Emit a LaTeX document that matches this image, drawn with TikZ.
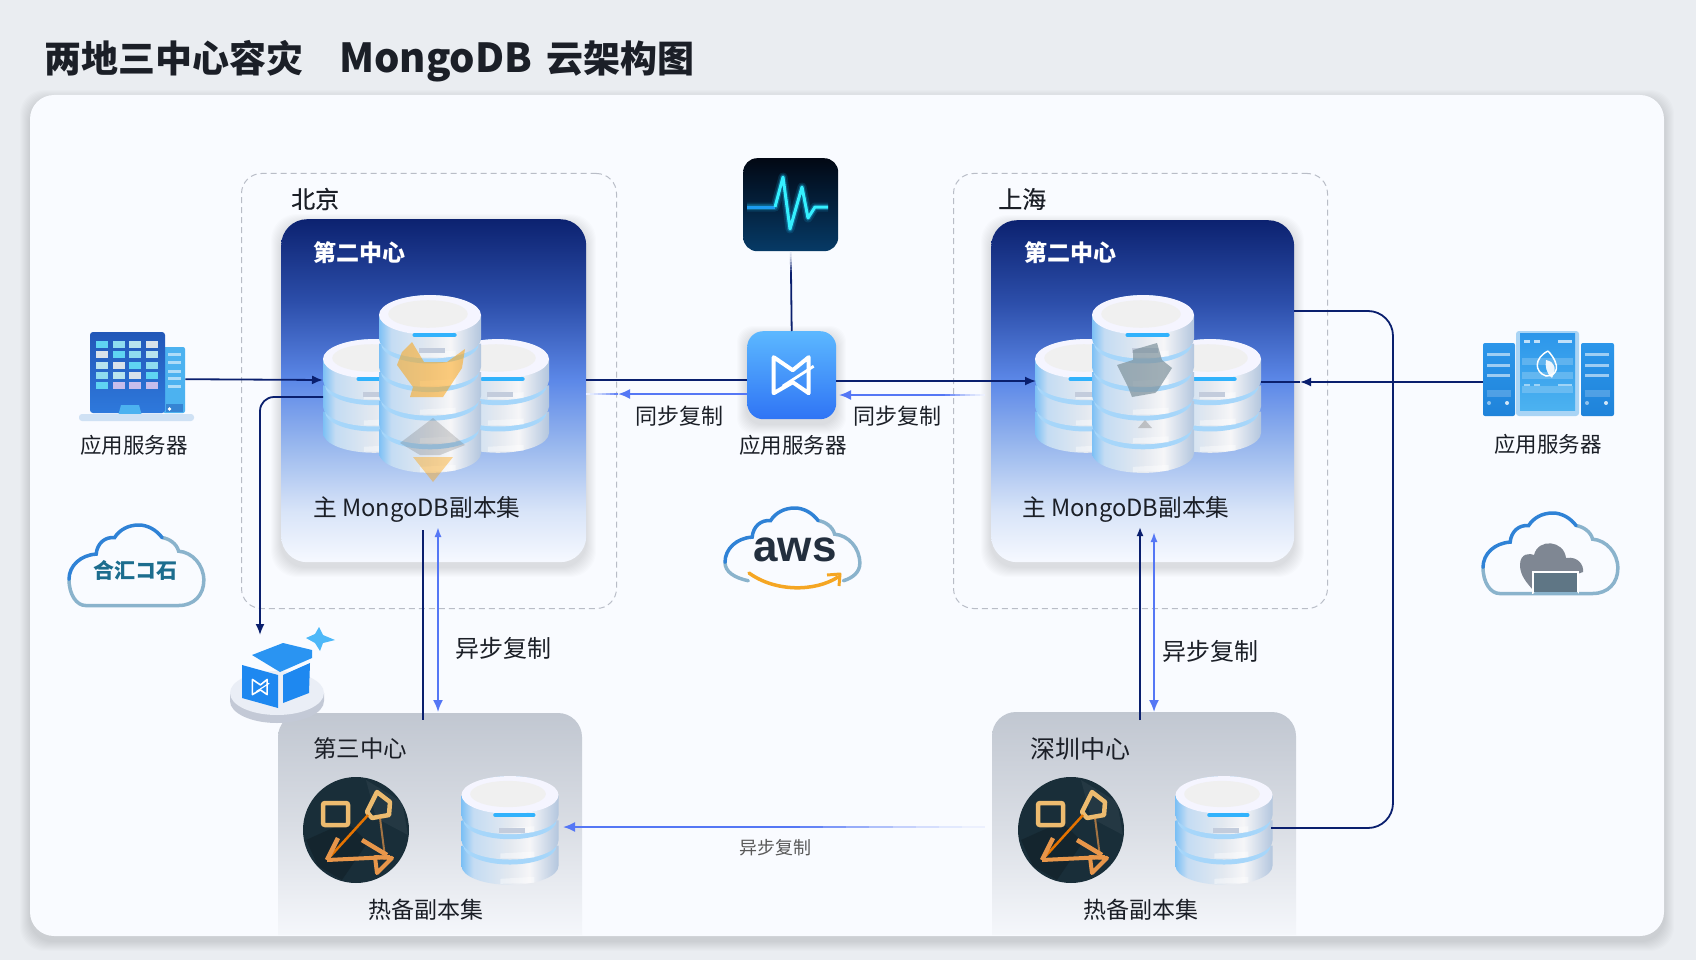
\documentclass[tikz,border=0pt]{standalone}
\usepackage{fontspec}
\setmainfont{Noto Sans CJK SC}
\newfontfamily\awsfont{Liberation Sans}
\newfontfamily\namefont[FakeBold=.35]{Noto Sans CJK SC}
\usetikzlibrary{arrows.meta,calc}

\definecolor{pagebg}{HTML}{EAEDF1}
\definecolor{panelbg}{HTML}{F9FBFF}
\definecolor{inkdark}{HTML}{1B1F27}
\definecolor{navyline}{HTML}{0A1F6E}
\definecolor{syncblue}{HTML}{5577F5}
\definecolor{zoneline}{HTML}{B9BDC7}
\definecolor{cloudhi}{HTML}{2F82D6}
\definecolor{cloudlo}{HTML}{8AB3CC}
\definecolor{glowblue}{HTML}{3AA4FB}
\definecolor{glowside}{HTML}{A6D6FA}
\definecolor{orangeline}{HTML}{E8964A}
\definecolor{orangepale}{HTML}{EDBB6F}
\definecolor{hotbg}{HTML}{192E39}
\definecolor{awsink}{HTML}{232F3E}
\definecolor{towerlight}{HTML}{4CB2F0}
\definecolor{hubtop}{HTML}{5CB8FF}
\definecolor{hubbot}{HTML}{2F74F5}
\definecolor{monitortop}{HTML}{020814}
\definecolor{monitorbot}{HTML}{063A66}
\definecolor{pulseglow}{HTML}{1FC8FF}
\definecolor{pulsecore}{HTML}{35F0FF}
\definecolor{pulseside}{HTML}{1C9CF0}
\definecolor{officetop}{HTML}{2257B8}
\definecolor{officebot}{HTML}{2E79DC}
\definecolor{winA}{HTML}{5FD4F2}
\definecolor{winB}{HTML}{8FDCEF}
\definecolor{winC}{HTML}{B9E4EE}
\definecolor{winD}{HTML}{D9E2EA}
\definecolor{winE}{HTML}{C8BDEB}
\definecolor{basepale}{HTML}{CFE1F4}
\definecolor{rackedge}{HTML}{1F83DA}
\definecolor{racktop}{HTML}{2C96EA}
\definecolor{rackframe}{HTML}{A9D4F5}
\definecolor{cubeblue}{HTML}{1E88F0}
\definecolor{cubetop}{HTML}{2A94F2}
\definecolor{sparkle}{HTML}{4DB8F8}
\definecolor{stoneside}{HTML}{C3C9D6}
\definecolor{stonetop}{HTML}{EAEEF6}
\definecolor{puffgrey}{HTML}{7F8793}
\definecolor{slatebox}{HTML}{5F7685}
\definecolor{logoteal}{HTML}{1C6D8E}
\definecolor{smile}{HTML}{F5A623}
\definecolor{slotgrey}{HTML}{C3CCDC}
\definecolor{cardA}{HTML}{F6F9FF}
\definecolor{cardB}{HTML}{D8E4F8}
\definecolor{cardC}{HTML}{9CBAEE}
\definecolor{cardD}{HTML}{5C88E8}
\definecolor{cardE}{HTML}{2C4EAA}
\definecolor{cardF}{HTML}{0C2270}
\definecolor{greyA}{HTML}{F5F7FB}
\definecolor{greyB}{HTML}{D9DDE4}
\definecolor{greyC}{HTML}{C1C7D1}
\definecolor{bodyA}{HTML}{7CC0F5}
\definecolor{bodyB}{HTML}{C4DCF3}
\definecolor{bodyC}{HTML}{E4E9F0}
\definecolor{bodyD}{HTML}{F6F6F8}
\definecolor{bodyE}{HTML}{B3C6DE}

\pgfdeclareverticalshading{cardblue}{100bp}{
	color(0bp)=(cardA);
	color(25bp)=(cardA);
	color(32.5bp)=(cardB);
	color(41.5bp)=(cardC);
	color(51.5bp)=(cardD);
	color(63bp)=(cardE);
	color(75bp)=(cardF);
	color(100bp)=(cardF)}
\pgfdeclareverticalshading{cardgrey}{100bp}{
	color(0bp)=(greyA);
	color(25bp)=(greyA);
	color(50bp)=(greyB);
	color(75bp)=(greyC);
	color(100bp)=(greyC)}
\pgfdeclarehorizontalshading{dbbody}{100bp}{
	color(0bp)=(bodyA);
	color(25bp)=(bodyA);
	color(31bp)=(bodyB);
	color(50bp)=(bodyC);
	color(60bp)=(bodyD);
	color(75bp)=(bodyE);
	color(100bp)=(bodyE)}

\tikzset{
	zone/.style={draw=zoneline, line width=1pt, dash pattern=on 6pt off 4pt, rounded corners=20pt, anchor=north west, inner sep=0pt},
	bluecard/.style={shade, shading=cardblue, rounded corners=26pt, anchor=north west, inner sep=0pt},
	txt/.style={font=\fontsize{#1}{#1}\selectfont, text=inkdark, inner sep=0pt},
	navy/.style={draw=navyline, line width=1.8pt},
	navyarrow/.style={navy, -{Latex[length=11pt,width=9pt]}},
	navytip/.style={navy, -{Latex[length=9pt,width=7pt]}},
	sync/.style={draw=syncblue, line width=1.8pt},
	syncarrow/.style={sync, -{Latex[length=12pt,width=10pt]}},
	syncboth/.style={sync, {Latex[length=10pt,width=7pt]}-{Latex[length=12pt,width=10pt]}},
	blank/.style={inner sep=0pt, anchor=north west},
	cloudup/.style={draw=cloudhi, line width=3.5pt, line cap=round},
	clouddown/.style={draw=cloudlo, line width=3.5pt, line cap=round},
	cloudcrest/.pic={
		\draw[cloudup] (0,56) .. controls (0,42) and (12,31) .. (28,30) .. controls (29,19) and (37,12) .. (47,13)
			.. controls (52,5) and (61,0) .. (72,0) .. controls (81,0) and (90,5) .. (96,13);
	},
	cloudrim/.pic={
		\draw[clouddown] (0,56) .. controls (0,72) and (8,83) .. (17,83) -- (113,83) .. controls (129,83) and (139,72) .. (139,57)
			.. controls (139,41) and (127,28) .. (113,27) .. controls (111,19) and (103,14) .. (96,13);
	},
	awsrim/.pic={
		\draw[clouddown] (24,75) .. controls (10,72) and (0,66) .. (0,56);
		\draw[clouddown] (122,75) .. controls (132,72) and (139,66) .. (139,57)
			.. controls (139,41) and (127,28) .. (113,27) .. controls (111,19) and (103,14) .. (96,13);
	},
	mlogo/.pic={
		\draw[white, line width=#1, line join=round] (-18,-18) -- (1,-5) -- (17,-18) -- (17,18) -- (1,7) -- (-18,18) -- cycle;
		\draw[white, line width=#1*.7] (-9,11) -- (22,-9);
	},
	hotgraph/.pic={
		\fill[hotbg] (0,0) circle (53pt);
		\fill[black, opacity=.18] (-50,10) -- (-10,-8) -- (12,12) -- (-14,50) -- (-38,36) -- cycle;
		\fill[white, opacity=.05] (10,-50) -- (46,-28) -- (52,5) -- (20,-12) -- cycle;
		\draw[orangepale, line width=4.5pt, rounded corners=2pt] (-33,-27) rectangle (-8,-5);
		\draw[orangepale, line width=4.5pt, line join=round] (11,-18) -- (21,-38) -- (34,-28) -- (33,-15) -- (16,-12) -- cycle;
		\draw[orangeline!80!brown, line width=2pt, opacity=.7] (24,-12) -- (29,27);
		\draw[orange!90!black, line width=2.5pt] (12,-15) -- (-29,30);
		\draw[orangeline, line width=4pt] (-29,30) -- (34,27);
		\draw[orangeline, line width=4.5pt] (6,10) -- (31,25);
		\draw[orangeline, line width=4.5pt] (-18,8) -- (-29,30);
		\draw[orangeline, line width=4pt, line join=round] (19,27) -- (36,28) -- (21,43) -- cycle;
	}
}

\newcommand{\softshadow}[6]{%
	\foreach \s in {1,...,10} {
		\fill[black, opacity=#6, rounded corners=#5pt] (#1-\s,#2-\s+5) rectangle (#3+\s,#4+\s+5);
	}
}
\newcommand{\fadeline}[4]{%
	\foreach \t/\p in {0/90,1/75,2/60,3/45,4/32,5/22,6/14,7/8} {
		\draw[draw=#1!\p!panelbg, line width=#4] ($(#2)!\t/8!(#3)$) -- ($(#2)!\t/8+.125!(#3)$);
	}
}
% one stack of discs: centre x, first top y, half width, discs, pitch
\newcommand{\dbstack}[5]{%
	\pgfmathtruncatemacro{\nlast}{#4-1}
	\foreach \i in {\nlast,...,0} {
		\pgfmathsetmacro{\yy}{#2+\i*#5}
		\pgfmathsetmacro{\yb}{\yy+#5-5}
		\shade[shading=dbbody] (#1-#3,\yy) -- (#1-#3,\yb) arc [start angle=180, end angle=360, x radius=#3pt, y radius=.39*#3pt] -- (#1+#3,\yy) -- cycle;
		\fill[white, opacity=.4] (#1-#3*.2,\yb+.39*#3-6) -- (#1+#3*.5,\yb+.39*#3-8) -- (#1+#3*.5,\yb+.39*#3-2) -- (#1-#3*.2,\yb+.39*#3-1) -- cycle;
		\shade[left color=glowside, middle color=glowblue, right color=glowside] (#1,\yy) ellipse [x radius=.96*#3pt, y radius=.39*#3pt];
	}
	\fill[white!96!blue] (#1,#2) ellipse [x radius=#3pt, y radius=.39*#3pt];
	\fill[black!6] (#1-2,#2-1) ellipse [x radius=.78*#3pt, y radius=.27*#3pt];
	\draw[glowblue!85!cyan, line width=4.5pt, line cap=round] (#1-.3*#3,#2+20) -- (#1+.48*#3,#2+20);
	\fill[slotgrey] (#1-.22*#3,#2+33) rectangle (#1+.3*#3,#2+38);
}

\begin{document}
\begin{tikzpicture}[x=1pt, y=-1pt]
	\useasboundingbox (0,0) rectangle (1696,960);
	\fill[pagebg] (0,0) rectangle (1696,960);
	\softshadow{30}{95}{1664}{936}{24}{.012}
	\fill[panelbg, rounded corners=24pt] (30,95) rectangle (1664,936);
	\node[txt=37, anchor=west, font=\fontsize{37}{37}\selectfont\bfseries] (title) at (44,61) {两地三中心容灾\hspace{36pt}{\fontsize{40}{40}\selectfont MongoDB}\hspace{14pt}云架构图};

	\node[zone, minimum width=375pt, minimum height=435pt] (bjzone) at (241,173) {};
	\node[zone, minimum width=374pt, minimum height=435pt] (shzone) at (953,173) {};
	\node[txt=24, anchor=west, font=\namefont\fontsize{24}{24}\selectfont] (bjname) at (291,199) {北京};
	\node[txt=24, anchor=west, font=\namefont\fontsize{24}{24}\selectfont] (shname) at (998,199) {上海};

	\softshadow{281}{219}{586}{562}{26}{.012}
	\softshadow{991}{220}{1294}{562}{26}{.012}
	\node[bluecard, minimum width=305pt, minimum height=343pt] (bjcard) at (281,219) {};
	\node[bluecard, minimum width=303pt, minimum height=342pt] (shcard) at (991,220) {};
	\node[txt=23, text=white, anchor=west, font=\fontsize{23}{23}\selectfont\bfseries] (bjtag) at (313,253) {第二中心};
	\node[txt=23, text=white, anchor=west, font=\fontsize{23}{23}\selectfont\bfseries] (shtag) at (1024,253) {第二中心};
	\node[txt=23.7, anchor=west] (bjset) at (313,509) {主 MongoDB副本集};
	\node[txt=23.7, anchor=west] (shset) at (1022,509) {主 MongoDB副本集};

	\dbstack{374}{359}{51}{3}{26.3}
	\dbstack{498}{359}{51}{3}{26.3}
	\dbstack{430}{315}{51}{5}{28.6}
	\dbstack{1086}{359}{51}{3}{26.3}
	\dbstack{1210}{359}{51}{3}{26.3}
	\dbstack{1143}{315}{51}{5}{28.6}
	\fill[orange!75!yellow, opacity=.5] (397,365) -- (402,352) -- (412,342) -- (424,362) -- (447,362) -- (465,349) -- (462,368) -- (443,397) -- (410,397) -- (413,387) -- cycle;
	\fill[black!60, opacity=.25] (400,443) -- (433,418) -- (465,445) -- (440,455) -- (420,455) -- cycle;
	\fill[orange!75!yellow, opacity=.4] (413,457) -- (453,457) -- (433,482) -- cycle;
	\fill[black!30!cyan!30!gray, opacity=.7] (1133,350) -- (1157,343) -- (1162,360) -- (1172,368) -- (1158,390) -- (1155,393) -- (1132,397) -- (1128,387) -- (1117,365) -- (1133,360) -- cycle;
	\fill[black!45, opacity=.45] (1138,428) -- (1145,420) -- (1152,428) -- cycle;

	% lower sites
	\shade[shading=cardgrey] (278,935) [rounded corners=24pt] -- (278,713) -- (582,713) [sharp corners] -- (582,935) -- cycle;
	\shade[shading=cardgrey] (992,935) [rounded corners=24pt] -- (992,712) -- (1296,712) [sharp corners] -- (1296,935) -- cycle;
	\node[txt=23.5, anchor=west] (thirdname) at (313,749) {第三中心};
	\node[txt=25, anchor=west] (szname) at (1030,749) {深圳中心};
	\pic at (356,830) {hotgraph};
	\pic at (1071,830) {hotgraph};
	\dbstack{510}{795}{48.5}{3}{25.3}
	\dbstack{1224}{795}{48.5}{3}{25.3}
	\node[txt=23] (thirdset) at (426,910) {热备副本集};
	\node[txt=23] (szset) at (1141,910) {热备副本集};

	% left server
	\fill[towerlight, rounded corners=2pt] (163,347) rectangle (185,413);
	\foreach \y in {353,361,370,377,385} {
		\fill[white, opacity=.55] (168,\y) rectangle (181,\y+3);
	}
	\fill[officetop, opacity=.5] (166,404) rectangle (183,412);
	\fill[white] (169.5,409) circle (1.8pt);
	\shade[top color=officetop, bottom color=officebot, rounded corners=3pt] (90,332) rectangle (165,413);
	\foreach \r in {0,...,4} {
		\foreach \c in {0,...,3} {
			\pgfmathtruncatemacro{\m}{mod(\r*3+\c*5,4)}
			\ifnum\m=0 \def\wincol{winA}\fi
			\ifnum\m=1 \def\wincol{winB}\fi
			\ifnum\m=2 \def\wincol{winC}\fi
			\ifnum\m=3 \def\wincol{winD}\fi
			\ifnum\r=4 \ifnum\c>0 \def\wincol{winE}\fi\fi
			\fill[\wincol] (96+\c*16.7,341+\r*10.3) rectangle (108+\c*16.7,348+\r*10.3);
		}
	}
	\fill[towerlight] (121,405) -- (139,405) -- (142,416) -- (118,416) -- cycle;
	\fill[basepale, rounded corners=3pt] (79,414) rectangle (194,421);
	\node[blank, minimum width=95pt, minimum height=94pt] (appleft) at (90,332) {};
	\node[txt=21.5] (appleftname) at (134,445) {应用服务器};

	% right server
	\foreach \xa/\xb in {1483/1515,1581/1614} {
		\shade[top color=racktop, bottom color=rackedge, rounded corners=2pt] (\xa,343) rectangle (\xb,416);
		\foreach \y in {353,364,374} {
			\fill[white, opacity=.55] (\xa+4,\y) rectangle (\xb-5,\y+3);
		}
		\fill[white, opacity=.2] (\xa+4,390) rectangle (\xb-4,397);
		\fill[white, opacity=.8] (\xb-8,403) circle (2pt);
		\fill[white, opacity=.5] (\xa+6,403) circle (2pt);
	}
	\fill[rackframe, rounded corners=3pt] (1516,331) rectangle (1579,416);
	\shade[top color=racktop, bottom color=towerlight] (1520,333) rectangle (1575,410);
	\foreach \y in {358,372,386} {
		\fill[white, opacity=.2] (1522,\y) rectangle (1573,\y+7);
	}
	\foreach \xa/\xb in {1524/1530,1534/1540,1558/1572} {
		\fill[white, opacity=.7] (\xa,340) rectangle (\xb,343);
		\fill[white, opacity=.5] (\xa,384) rectangle (\xb,386);
	}
	\draw[white, line width=1.5pt] (1548,351) .. controls (1534,358) and (1534,372) .. (1546,376) .. controls (1558,376) and (1561,365) .. (1548,351);
	\fill[white, opacity=.9] (1546,360) .. controls (1555,362) and (1557,368) .. (1552,378) .. controls (1546,373) and (1545,366) .. (1546,360);
	\node[blank, minimum width=131pt, minimum height=85pt] (appright) at (1483,331) {};
	\node[txt=21.5] (apprightname) at (1548,444) {应用服务器};

	% clouds
	\pic[scale=.97] at (69,525) {cloudrim};
	\pic[scale=.97] at (69,525) {cloudcrest};
	\node[txt=21, text=logoteal, font=\fontsize{21}{21}\selectfont\bfseries] (cloudleftname) at (135,570) {合汇コ石};
	\pic[scale=.97] at (1483,513) {cloudrim};
	\pic[scale=.97] at (1483,513) {cloudcrest};
	\fill[puffgrey] (1520,565) .. controls (1520,553) and (1530,553) .. (1534,555) .. controls (1538,538) and (1564,540) .. (1566,558) .. controls (1578,556) and (1584,565) .. (1583,572) -- (1533,590) .. controls (1526,582) and (1520,575) .. (1520,565);
	\draw[white, line width=2pt, fill=slatebox] (1533,572) rectangle (1578,593);
	\draw[clouddown] (1535,593.5) -- (1577,593.5);
	\pic[scale=.97] at (725,508) {awsrim};
	\pic[scale=.97] at (725,508) {cloudcrest};
	\node[inner sep=0pt, text=awsink, font=\awsfont\fontsize{44}{44}\selectfont\bfseries] (awsname) at (795,550) {aws};
	\draw[smile, line width=3.5pt, line cap=round] (749,573) .. controls (775,592) and (815,592) .. (838,577);
	\draw[smile, line width=3pt, line join=round] (827,575) -- (840,574) -- (839,586);

	% monitor and hub
	\node[blank, rounded corners=14pt, minimum width=95pt, minimum height=93pt, top color=monitortop, bottom color=monitorbot] (monitor) at (743,158) {};
	\draw[pulseglow, line width=9pt, opacity=.14, line join=round] (747,207) -- (775,207) -- (783,177) -- (790,229) -- (802,187) -- (808,218) -- (815,207) -- (828,207);
	\draw[pulseglow, line width=5.5pt, opacity=.3, line join=round] (747,207) -- (775,207) -- (783,177) -- (790,229) -- (802,187) -- (808,218) -- (815,207) -- (828,207);
	\draw[pulseside, line width=3pt] (747,207) -- (775,207);
	\draw[pulsecore, line width=3pt, line join=round] (775,207) -- (783,177) -- (790,229) -- (802,187) -- (808,218) -- (815,207) -- (828,207);
	\softshadow{747}{331}{836}{419}{16}{.01}
	\node[blank, rounded corners=16pt, minimum width=89pt, minimum height=88pt, top color=hubtop, bottom color=hubbot] (hub) at (747,331) {};
	\pic at (hub.center) {mlogo=4pt};
	\node[txt=21.5] (hubname) at (793,445) {应用服务器};

	% cube
	\fill[stoneside] (230,693) -- (230,701) arc [start angle=180, end angle=360, x radius=47pt, y radius=22pt] -- (324,693) -- cycle;
	\fill[stonetop] (277,693) ellipse [x radius=47pt, y radius=22pt];
	\fill[cubetop] (252,655) -- (283,643) -- (312,650) -- (312,658) -- (280,672) -- cycle;
	\fill[cubeblue] (242,665) -- (278,675) -- (278,708) -- (242,698) -- cycle;
	\fill[cubeblue] (283,675) -- (310,663) -- (309,693) -- (283,703) -- cycle;
	\pic[scale=.42] at (260,687) {mlogo=1.6pt};
	\fill[sparkle] (319,627) -- (323,635) -- (335,640) -- (323,643) -- (320,651) -- (315,643) -- (306,638) -- (315,634) -- cycle;
	\coordinate (cubein) at (260,635);

	% links
	\coordinate (bjin) at (323,380);
	\coordinate (bjout) at (323,397);
	\draw[navyarrow] (appleft.east) -- (bjin);
	\draw[navyarrow, rounded corners=14pt] (bjout) -- (260,397) -- (cubein);
	\draw[navy] (bjcard.east |- bjin) -- (hub.west |- bjin);
	\coordinate (shin) at (1036,381);
	\draw[navyarrow] (hub.east |- shin) -- (shin);
	\coordinate (rstop) at (1300,382);
	\coordinate (rend) at (1261,382);
	\draw[navyarrow] (appright.west |- rstop) -- (rstop);
	\draw[navy] (rstop) -- (rend);
	\coordinate (pulsefoot) at (791,272);
	\draw[navy] (pulsefoot) -- (hub.north);
	\fadeline{navyline}{pulsefoot}{monitor.south}{1.8pt}

	\coordinate (synctipL) at (618,394);
	\coordinate (synctipR) at (839,395);
	\coordinate (synctailL) at (586,394);
	\coordinate (syncfromR) at (945,395);
	\coordinate (synctailR) at (985,395);
	\draw[syncarrow] (hub.west |- synctipL) -- (synctipL);
	\fadeline{syncblue}{synctipL}{synctailL}{1.8pt}
	\draw[syncarrow] (syncfromR) -- (synctipR);
	\fadeline{syncblue}{syncfromR}{synctailR}{1.8pt}
	\node[txt=22] (synclabelL) at (679,416) {同步复制};
	\node[txt=22] (synclabelR) at (897,416) {同步复制};

	\coordinate (bjdown) at (423,530);
	\coordinate (thirdin) at (423,720);
	\draw[navy] (bjdown) -- (thirdin);
	\coordinate (bjsyncup) at (438,527);
	\coordinate (thirdsync) at (438,712);
	\draw[syncboth] (bjsyncup) -- (thirdsync);
	\node[txt=24, anchor=west] (asynclabelL) at (455,648) {异步复制};
	\coordinate (szout) at (1140,720);
	\coordinate (shup) at (1140,527);
	\draw[navytip] (szout) -- (shup);
	\coordinate (shsyncup) at (1154,532);
	\coordinate (szsync) at (1154,712);
	\draw[syncboth] (shsyncup) -- (szsync);
	\node[txt=24, anchor=west] (asynclabelR) at (1162,651) {异步复制};

	\coordinate (shexit) at (1294,311);
	\coordinate (szhot) at (1271,828);
	\draw[navy, rounded corners=25pt] (shexit) -- (1393,311) -- (1393,828) -- (szhot);
	\coordinate (hottip) at (563,827);
	\coordinate (hotmid) at (800,827);
	\coordinate (hotend) at (985,827);
	\draw[syncarrow] (hotmid) -- (hottip);
	\fadeline{syncblue}{hotmid}{hotend}{1.5pt}
	\node[txt=18, text=black!65] (asynclabelB) at (775,848) {异步复制};
\end{tikzpicture}
\end{document}
